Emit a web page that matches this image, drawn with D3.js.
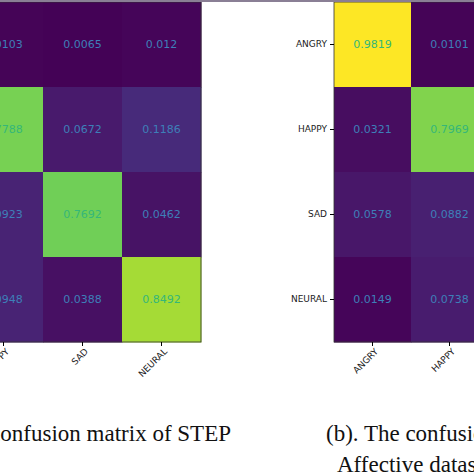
<!DOCTYPE html><html><head><script src="https://cdn.jsdelivr.net/npm/d3@7"></script>
<style>body{margin:0;background:#fff}</style></head><body><svg id="c" width="474" height="474"></svg>
<script>
const labels=["ANGRY","HAPPY","SAD","NEURAL"];
const matA=[[0.9712,0.0103,0.0065,0.012],[0.0354,0.7788,0.0672,0.1186],[0.0923,0.0923,0.7692,0.0462],[0.0172,0.0948,0.0388,0.8492]];
const matB=[[0.9819,0.0101,0.0040,0.0040],[0.0321,0.7969,0.0850,0.0860],[0.0578,0.0882,0.7800,0.0740],[0.0149,0.0738,0.0600,0.8513]];
const captionA=["(a). The confusion matrix of STEP"];
const captionB=["(b). The confusion matrix of","Affective dataset"];
const svg=d3.select("#c");
const col=d3.scaleSequential(d3.interpolateViridis).domain([0,0.982]);
function draw(mat,x0,cw,showY){
  const x=d3.scaleBand().domain(labels).range([x0,x0+4*cw]);
  const y=d3.scaleBand().domain(labels).range([2,342]);
  const g=svg.append("g");
  mat.forEach((row,i)=>row.forEach((v,j)=>{
    g.append("rect").attr("x",x(labels[j])).attr("y",y(labels[i])).attr("width",x.bandwidth()+0.5).attr("height",y.bandwidth()+0.5).attr("fill",col(v));
    g.append("text").attr("x",x(labels[j])+x.bandwidth()/2).attr("y",y(labels[i])+y.bandwidth()/2).attr("dy","0.35em")
     .attr("text-anchor","middle").attr("font-family","DejaVu Sans").attr("font-size",11)
     .attr("fill",v>0.5?"#35b779":"#3e7fb8").text(v);
  }));
  g.append("rect").attr("x",x0).attr("y",2).attr("width",4*cw).attr("height",340).attr("fill","none").attr("stroke","#333").attr("stroke-width",0.8);
  const xa=g.append("g").attr("transform","translate(0,342)").call(d3.axisBottom(x).tickSize(4));
  xa.select(".domain").remove();
  xa.selectAll("text").attr("font-family","DejaVu Sans").attr("font-size",9).attr("fill","#222")
    .attr("text-anchor","end").attr("transform","rotate(-45)").attr("dx","-0.3em").attr("dy","0.5em");
  if(showY){
    const ya=g.append("g").attr("transform",`translate(${x0},0)`).call(d3.axisLeft(y).tickSize(4));
    ya.select(".domain").remove();
    ya.selectAll("text").attr("font-family","DejaVu Sans").attr("font-size",9).attr("fill","#222");
  }
}
draw(matA,201-4*79,79,false);
draw(matB,334,77,true);
svg.append("rect").attr("x",0).attr("y",0).attr("width",474).attr("height",2).attr("fill","#8a7f95");
svg.append("text").attr("x",231).attr("y",441).attr("text-anchor","end").attr("font-family","Liberation Serif").attr("font-size",23).attr("fill","#111").text(captionA[0]);
svg.append("text").attr("x",326).attr("y",441).attr("font-family","Liberation Serif").attr("font-size",23).attr("fill","#111").text(captionB[0]);
svg.append("text").attr("x",337).attr("y",472).attr("font-family","Liberation Serif").attr("font-size",23).attr("fill","#111").text(captionB[1]);
</script></body></html>
